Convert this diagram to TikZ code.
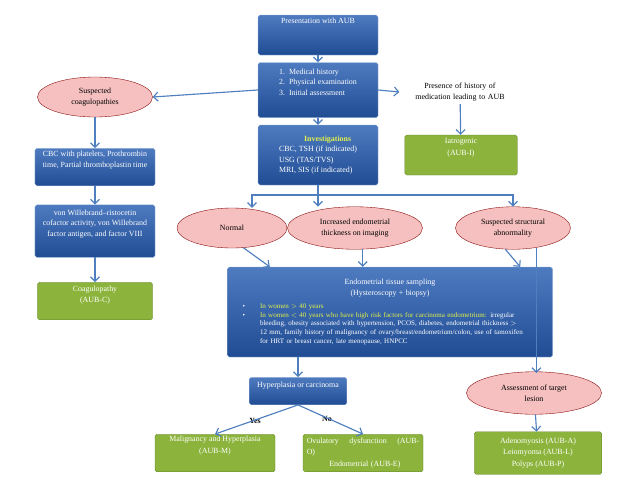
\documentclass[tikz,border=0pt]{standalone}
\usepackage{fontspec}
\setmainfont{Liberation Serif}
\usetikzlibrary{arrows.meta, positioning, shapes.geometric}

\definecolor{boxblue}{HTML}{2F63B5}
\definecolor{boxdark}{HTML}{1F4C93}
\definecolor{leaf}{HTML}{8CB43C}
\definecolor{pinkfill}{HTML}{F6C0C0}
\definecolor{arrowblue}{HTML}{4F7FBF}
\definecolor{hint}{HTML}{E4F24A}

\tikzset{
  bluebox/.style={draw=arrowblue!60, rounded corners=2pt, top color=boxblue!85, bottom color=boxdark, text=white, font=\fontsize{9}{12}\selectfont, align=center, inner sep=2pt},
  greenbox/.style={draw=leaf!70!black, rounded corners=2pt, fill=leaf, text=white, font=\fontsize{9}{13}\selectfont, align=center, inner sep=2pt},
  pinkoval/.style={ellipse, draw=red!50!black, fill=pinkfill, font=\fontsize{9}{12}\selectfont, align=center, inner sep=1pt},
  flow/.style={draw=arrowblue, line width=1.3pt, -{Straight Barb[length=1.8mm]}}
}

\begin{document}
\begin{tikzpicture}[x=0.4mm, y=-0.4mm]
  \useasboundingbox (0,0) rectangle (638,478);

  % Top column
  \node (present) [bluebox, minimum width=48mm, minimum height=16mm] at (318,35) {Presentation with AUB\\[7mm]};
  \node (history) [bluebox, minimum width=48mm, minimum height=22mm, align=left] at (318,90) {1.\ \ Medical history\\2.\ \ Physical examination\\3.\ \ Initial assessment\\[2mm]};
  \node (invest) [bluebox, minimum width=48mm, minimum height=24mm, align=left] at (318,155) {\hspace*{10mm}\textcolor{hint}{\textbf{Investigations}}\\CBC, TSH (if indicated)\\USG (TAS/TVS)\\MRI, SIS (if indicated)};

  % Right branch
  \node (medic) [font=\fontsize{9}{12}\selectfont, align=center, text width=46mm] at (460,92) {Presence of history of\\medication leading to AUB};
  \node (iatro) [greenbox, minimum width=45mm, minimum height=16mm] at (461,155) {Iatrogenic\\(AUB-I)\\[2mm]};

  % Left column
  \node (coag) [pinkoval, minimum width=46mm, minimum height=16mm] at (95,97) {Suspected\\coagulopathies};
  \node (cbc) [bluebox, minimum width=48mm, minimum height=15mm] at (95,167) {CBC with platelets, Prothrombin\\time, Partial thromboplastin time\\[2mm]};
  \node (vwf) [bluebox, minimum width=48mm, minimum height=21mm] at (95,231) {von Willebrand--ristocetin\\cofactor activity, von Willebrand\\factor antigen, and factor VIII\\[2mm]};
  \node (coagres) [greenbox, minimum width=46mm, minimum height=15mm] at (95,301) {Coagulopathy\\(AUB-C)\\[1mm]};

  % Middle row ovals
  \node (normal) [pinkoval, minimum width=44mm, minimum height=16mm] at (232,228) {Normal};
  \node (thick) [pinkoval, minimum width=54mm, minimum height=17mm] at (355,228) {Increased endometrial\\thickness on imaging};
  \node (struct) [pinkoval, minimum width=46mm, minimum height=17mm] at (513,228) {Suspected structural\\abnormality};

  % Sampling
  \node (sample) [bluebox, minimum width=130mm, minimum height=36mm, align=left, text width=124mm, font=\fontsize{8}{10}\selectfont] at (390,312)
  {\centering {\fontsize{9}{12}\selectfont Endometrial tissue sampling\\[1mm](Hysteroscopy + biopsy)}\\[1.5mm]
   \raggedright
   \hspace*{3mm}\makebox[7mm][l]{\textbullet}\textcolor{hint}{In women $>$ 40 years}\\
   \hspace*{3mm}\makebox[7mm][l]{\textbullet}\parbox[t]{106mm}{\raggedright\textcolor{hint}{In women $<$ 40 years who have high risk factors for carcinoma endometrium:} irregular bleeding, obesity associated with hypertension, PCOS, diabetes, endometrial thickness $>$ 12 mm, family history of malignancy of ovary/breast/endometrium/colon, use of tamoxifen for HRT or breast cancer, late menopause, HNPCC}};

  % Bottom
  \node (hyper) [bluebox, minimum width=39mm, minimum height=11mm] at (298,391) {Hyperplasia or carcinoma\\[1mm]};
  \node (malig) [greenbox, minimum width=48mm, minimum height=15mm] at (215,453) {Malignancy and Hyperplasia\\(AUB-M)\\[2mm]};
  \node (ovul) [greenbox, minimum width=48mm, minimum height=15mm, align=left, text width=45mm] at (363,453) {Ovulatory\hfill dysfunction\hfill (AUB-\\O)\\\hspace*{9mm}Endometrial (AUB-E)};
  \node (target) [pinkoval, minimum width=54mm, minimum height=17mm] at (534,393) {Assessment of target\\lesion};
  \node (structres) [greenbox, minimum width=51mm, minimum height=17mm] at (538,453) {Adenomyosis (AUB-A)\\Leiomyoma (AUB-L)\\Polyps (AUB-P)};

  \node (yes) [font=\fontsize{9}{11}\selectfont\bfseries] at (255,421) {Yes};
  \node (no) [font=\fontsize{9}{11}\selectfont\bfseries] at (327,419) {No};

  % Connectors
  \coordinate (split) at (318,195);
  \draw[flow] (present) -- (history);
  \draw[flow] (history) -- (invest);
  \draw[flow] (history.west) -- (coag.east);
  \draw[flow] (history.east) -- (medic.west);
  \draw[flow] (medic) -- (iatro);
  \draw[flow] (coag) -- (cbc);
  \draw[flow] (cbc) -- (vwf);
  \draw[flow] (vwf) -- (coagres);
  \draw[draw=arrowblue, line width=1.3pt] (invest.south) -- (split);
  \draw[flow] (split) -| ([xshift=8mm]normal.north);
  \draw[flow] (split) -| (struct.north);
  \draw[flow] (split) -- (split |- thick.north);
  \draw[flow] (normal.300) -- ([xshift=17mm]sample.north west);
  \draw[flow] (thick.290) -- (thick.290 |- sample.north);
  \draw[flow] (struct.250) -- ([xshift=-13mm]sample.north east);
  \draw[flow] (struct.320) -- (struct.320 |- target.40);
  \draw[flow] (sample.south -| hyper) -- (hyper);
  \draw[flow] (hyper.south) -- (malig.north);
  \draw[flow] (hyper.south) -- (ovul.north);
  \draw[flow] (target) -- (structres);
\end{tikzpicture}
\end{document}
